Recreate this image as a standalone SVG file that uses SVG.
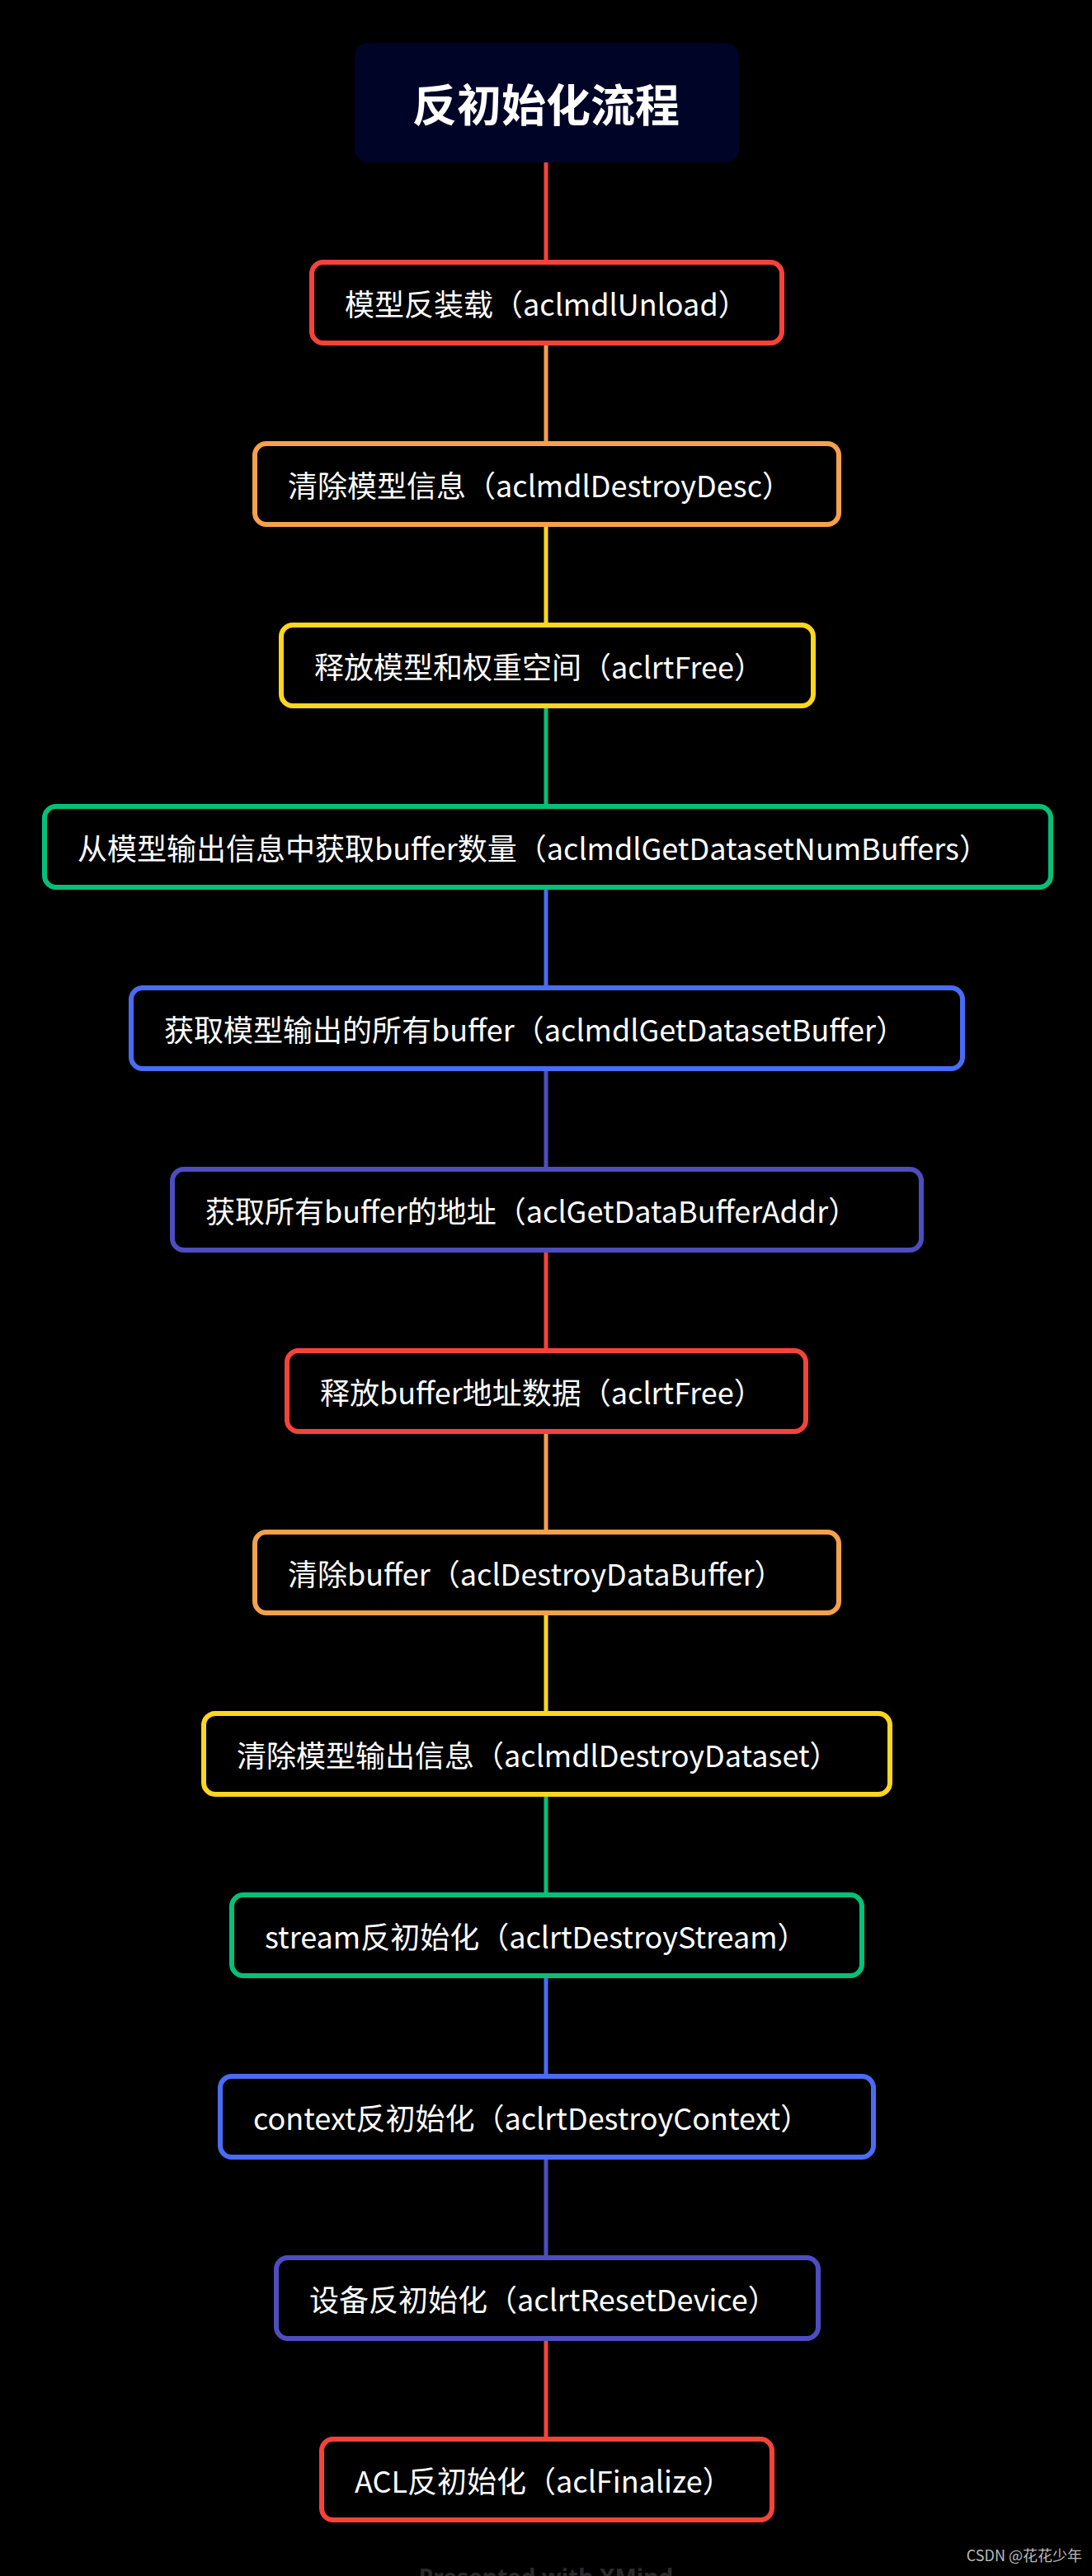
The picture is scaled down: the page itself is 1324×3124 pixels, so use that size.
<svg xmlns="http://www.w3.org/2000/svg" width="1324" height="3124" viewBox="0 0 1324 3124">
<style>
.n rect{fill:#000;stroke-width:6}
.n text{fill:#fff;font-family:"Noto Sans CJK SC","Noto Sans",sans-serif;font-size:36px;dominant-baseline:central}
.c line{stroke-width:5}
.r{stroke:#f5433b}.o{stroke:#f5a04a}.y{stroke:#fcd61f}.g{stroke:#05c078}.b{stroke:#4a6cf4}.i{stroke:#4e4dc0}
</style>
<rect width="1324" height="3124" fill="#000"/>
<g id="connectors" class="c">
<line class="r" x1="662" y1="197" x2="662" y2="318"/>
<line class="o" x1="662" y1="416" x2="662" y2="538"/>
<line class="y" x1="662" y1="636" x2="662" y2="758"/>
<line class="g" x1="662" y1="856" x2="662" y2="978"/>
<line class="b" x1="662" y1="1076" x2="662" y2="1198"/>
<line class="i" x1="662" y1="1296" x2="662" y2="1418"/>
<line class="r" x1="662" y1="1516" x2="662" y2="1638"/>
<line class="o" x1="662" y1="1736" x2="662" y2="1858"/>
<line class="y" x1="662" y1="1956" x2="662" y2="2078"/>
<line class="g" x1="662" y1="2176" x2="662" y2="2298"/>
<line class="b" x1="662" y1="2396" x2="662" y2="2518"/>
<line class="i" x1="662" y1="2616" x2="662" y2="2738"/>
<line class="r" x1="662" y1="2836" x2="662" y2="2958"/>
</g>
<g id="title"><rect x="430" y="52" width="466" height="145" rx="16" fill="#000426"/><text x="662" y="124" text-anchor="middle" dominant-baseline="central" fill="#fff" font-family="Noto Sans CJK SC,sans-serif" font-weight="bold" font-size="54">反初始化流程</text></g>
<g id="n1" class="n"><rect class="r" x="378" y="318" width="570" height="98" rx="14"/><text x="418" y="367">模型反装载（aclmdlUnload）</text></g>
<g id="n2" class="n"><rect class="o" x="309" y="538" width="708" height="98" rx="14"/><text x="349" y="587">清除模型信息（aclmdlDestroyDesc）</text></g>
<g id="n3" class="n"><rect class="y" x="341" y="758" width="645" height="98" rx="14"/><text x="381" y="807">释放模型和权重空间（aclrtFree）</text></g>
<g id="n4" class="n"><rect class="g" x="54" y="978" width="1220" height="98" rx="14"/><text x="94" y="1027">从模型输出信息中获取buffer数量（aclmdlGetDatasetNumBuffers）</text></g>
<g id="n5" class="n"><rect class="b" x="159" y="1198" width="1008" height="98" rx="14"/><text x="199" y="1247">获取模型输出的所有buffer（aclmdlGetDatasetBuffer）</text></g>
<g id="n6" class="n"><rect class="i" x="209" y="1418" width="908" height="98" rx="14"/><text x="249" y="1467">获取所有buffer的地址（aclGetDataBufferAddr）</text></g>
<g id="n7" class="n"><rect class="r" x="348" y="1638" width="629" height="98" rx="14"/><text x="388" y="1687">释放buffer地址数据（aclrtFree）</text></g>
<g id="n8" class="n"><rect class="o" x="309" y="1858" width="708" height="98" rx="14"/><text x="349" y="1907">清除buffer（aclDestroyDataBuffer）</text></g>
<g id="n9" class="n"><rect class="y" x="247" y="2078" width="832" height="98" rx="14"/><text x="287" y="2127">清除模型输出信息（aclmdlDestroyDataset）</text></g>
<g id="n10" class="n"><rect class="g" x="281" y="2298" width="764" height="98" rx="14"/><text x="321" y="2347">stream反初始化（aclrtDestroyStream）</text></g>
<g id="n11" class="n"><rect class="b" x="267" y="2518" width="792" height="98" rx="14"/><text x="307" y="2567">context反初始化（aclrtDestroyContext）</text></g>
<g id="n12" class="n"><rect class="i" x="335" y="2738" width="657" height="98" rx="14"/><text x="375" y="2787">设备反初始化（aclrtResetDevice）</text></g>
<g id="n13" class="n"><rect class="r" x="390" y="2958" width="546" height="98" rx="14"/><text x="430" y="3007">ACL反初始化（aclFinalize）</text></g>
<text x="662" y="3136" text-anchor="middle" fill="#2a2a2a" font-family="Noto Sans,sans-serif" font-weight="bold" font-size="28">Presented with XMind</text>
<text x="1312" y="3106" text-anchor="end" fill="#bbb" font-family="Noto Sans CJK SC,sans-serif" font-size="18">CSDN @花花少年</text>
</svg>
